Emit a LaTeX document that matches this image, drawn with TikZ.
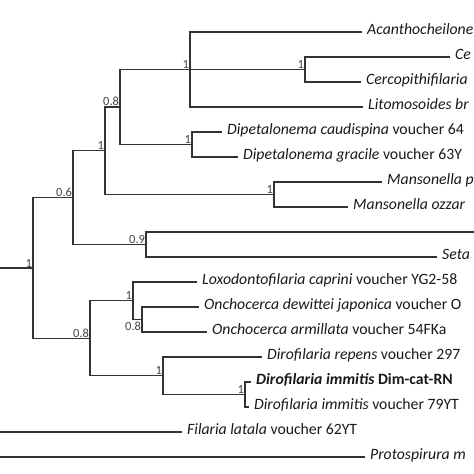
\documentclass[tikz,border=0pt]{standalone}
\usepackage{fontspec}
\setmainfont{Carlito}
\definecolor{br}{HTML}{333333}
\definecolor{sp}{HTML}{444444}
\tikzset{
  branch/.style={draw=br, line width=1.3bp},
  tip/.style={anchor=mid west, inner xsep=5bp, inner ysep=0pt, font=\fontsize{15.8}{17}\selectfont, text=black!90},
  supp/.style={font=\fontsize{12.5}{13}\selectfont, text=sp, inner sep=0.8bp},
  supse/.style={supp, anchor=south east},
  supne/.style={supp, anchor=north east},
}
\begin{document}
\begin{tikzpicture}[x=1bp,y=-1bp]
\useasboundingbox (0,0) rectangle (474,474);
\clip (0,0) rectangle (474,474);
% internal nodes
\coordinate (root) at (-4,268);
\coordinate (r1) at (33,268);
\coordinate (n06) at (73,197.6);
\coordinate (n1b) at (105,150.8);
\coordinate (n08a) at (120,107);
\coordinate (nacan) at (190,69.5);
\coordinate (ncer) at (305,69.5);
\coordinate (ndip) at (192,144.5);
\coordinate (nman) at (274,194.5);
\coordinate (n09) at (146,244.5);
\coordinate (n08b) at (90,338.3);
\coordinate (nlox) at (133,300.8);
\coordinate (nonc) at (142,319.5);
\coordinate (ndir) at (163,375.8);
\coordinate (nimm) at (245,394.5);
% tips
\node[tip] (t1) at (362,32) {\textit{Acanthocheilone}};
\node[tip] (t2) at (450,57) {\textit{Ce}};
\node[tip] (t3) at (361,82) {\textit{Cercopithifilaria}};
\node[tip] (t4) at (363,107) {\textit{Litomosoides br}};
\node[tip] (t5) at (222,132) {\textit{Dipetalonema caudispina} voucher 64};
\node[tip] (t6) at (238,157) {\textit{Dipetalonema gracile} voucher 63Y};
\node[tip] (t7) at (382,182) {\textit{Mansonella p}};
\node[tip] (t8) at (348,207) {\textit{Mansonella ozzar}};
\coordinate (t9) at (480,232);
\node[tip] (t10) at (437,257) {\textit{Seta}};
\node[tip] (t11) at (197,282) {\textit{Loxodontofilaria caprini} voucher YG2-58};
\node[tip] (t12) at (199,307) {\textit{Onchocerca dewittei japonica} voucher O};
\node[tip] (t13) at (207,332) {\textit{Onchocerca armillata} voucher 54FKa};
\node[tip] (t14) at (262,357) {\textit{Dirofilaria repens} voucher 297};
\node[tip] (t15) at (251,382) {\textbf{\textit{Dirofilaria immitis} Dim-cat-RN}};
\node[tip] (t16) at (249,407) {\textit{Dirofilaria immitis} voucher 79YT};
\node[tip] (t17) at (182,432) {\textit{Filaria latala} voucher 62YT};
\node[tip] (t18) at (365,457) {\textit{Protospirura m}};
% branches
\draw[branch] (root) |- (r1);
\draw[branch] (root) |- (t17.mid west);
\draw[branch] (root) |- (t18.mid west);
\draw[branch] (r1) |- (n06);
\draw[branch] (r1) |- (n08b);
\draw[branch] (n06) |- (n1b);
\draw[branch] (n06) |- (n09);
\draw[branch] (n1b) |- (n08a);
\draw[branch] (n1b) |- (nman);
\draw[branch] (n08a) |- (nacan);
\draw[branch] (n08a) |- (ndip);
\draw[branch] (nacan) |- (t1.mid west);
\draw[branch] (nacan) -- (ncer);
\draw[branch] (nacan) |- (t4.mid west);
\draw[branch] (ncer) |- (t2.mid west);
\draw[branch] (ncer) |- (t3.mid west);
\draw[branch] (ndip) |- (t5.mid west);
\draw[branch] (ndip) |- (t6.mid west);
\draw[branch] (nman) |- (t7.mid west);
\draw[branch] (nman) |- (t8.mid west);
\draw[branch] (n09) |- (t9);
\draw[branch] (n09) |- (t10.mid west);
\draw[branch] (n08b) |- (nlox);
\draw[branch] (n08b) |- (ndir);
\draw[branch] (nlox) |- (t11.mid west);
\draw[branch] (nlox) |- (nonc);
\draw[branch] (nonc) |- (t12.mid west);
\draw[branch] (nonc) |- (t13.mid west);
\draw[branch] (ndir) |- (t14.mid west);
\draw[branch] (ndir) |- (nimm);
\draw[branch] (nimm) |- (t15.mid west);
\draw[branch] (nimm) |- (t16.mid west);
% support values
\node[supse] (s1) at (r1) {1};
\node[supse] (s2) at (n06) {0.6};
\node[supse] (s3) at (n1b) {1};
\node[supse] (s4) at (n08a) {0.8};
\node[supse] (s5) at (nacan) {1};
\node[supse] (s6) at (ncer) {1};
\node[supse] (s7) at (ndip) {1};
\node[supse] (s8) at (nman) {1};
\node[supse] (s9) at (n09) {0.9};
\node[supse] (s10) at (n08b) {0.8};
\node[supse] (s11) at (nlox) {1};
\node[supne] (s12) at ([yshift=-1bp]nonc) {0.8};
\node[supse] (s13) at (ndir) {1};
\node[supse] (s14) at (nimm) {1};
\end{tikzpicture}
\end{document}
